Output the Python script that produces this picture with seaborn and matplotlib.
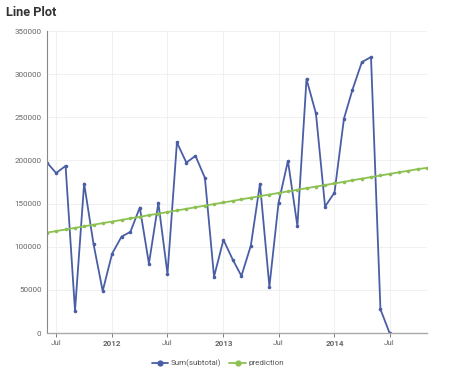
import matplotlib
matplotlib.use("Agg")
import matplotlib.pyplot as plt
import matplotlib.dates as mdates
import seaborn as sns
import pandas as pd
import numpy as np

# ---- data ----
months = pd.date_range("2011-06-01", "2014-11-01", freq="MS")
sum_subtotal = [197500, 185300, 193700, 25900, 173200, 102900, 48700, 92000,
                111700, 117200, 145400, 80400, 150800, 68400, 220800, 197500,
                205300, 179800, 65300, 107900, 84700, 66100, 101300, 172900,
                53700, 150800, 199500, 124100, 294300, 254400, 146500, 162800,
                248300, 281900, 314000, 319800, 27500, 0]
prediction = [116300, 118140, 119980, 121820, 123660, 125500, 127340, 129180,
              131020, 132860, 134700, 136540, 138380, 140220, 142060, 143900,
              145740, 147580, 149420, 151260, 153100, 154940, 156780, 158620,
              160460, 162300, 164140, 165980, 167820, 169660, 171500, 173340,
              175180, 177020, 178860, 180700, 182540, 184380, 186220, 188060,
              189900, 191400]
tick_dates = ["2011-07-01", "2012-01-01", "2012-07-01", "2013-01-01",
              "2013-07-01", "2014-01-01", "2014-07-01"]
tick_labels = ["Jul", "2012", "Jul", "2013", "Jul", "2014", "Jul"]
y_ticks = [0, 50000, 100000, 150000, 200000, 250000, 300000, 350000]

df = pd.concat([
    pd.DataFrame({"date": months[:len(sum_subtotal)], "value": sum_subtotal,
                  "series": "Sum(subtotal)"}),
    pd.DataFrame({"date": months[:len(prediction)], "value": prediction,
                  "series": "prediction"}),
], ignore_index=True)

sns.set_theme(style="white")
plt.rcParams['font.family'] = ['Roboto', 'DejaVu Sans']

fig = plt.figure(figsize=(4.74, 3.70), dpi=100)
ax = fig.add_axes([0.0992, 0.1, 0.8016, 0.8162])

palette = {"Sum(subtotal)": "#4a5ea6", "prediction": "#8cc152"}
sns.lineplot(data=df, x="date", y="value", hue="series", palette=palette,
             hue_order=["Sum(subtotal)", "prediction"],
             marker="o", markersize=2.6, markeredgewidth=0, linewidth=1.3,
             ax=ax, legend=True)

ax.set_xlim(months[0], months[len(prediction) - 1])
ax.set_ylim(0, 350000)
ax.set_yticks(y_ticks)
ax.set_yticklabels([str(v) for v in y_ticks])
ax.set_xticks(pd.to_datetime(tick_dates))
ax.set_xticklabels(tick_labels)
for lbl, txt in zip(ax.get_xticklabels(), tick_labels):
    if txt != "Jul":
        lbl.set_fontweight("bold")

ax.set_xlabel("")
ax.set_ylabel("")
ax.tick_params(axis="x", labelsize=5.8, colors="#666666", length=3,
               width=0.6, direction="out", pad=2, bottom=True)
ax.tick_params(axis="y", labelsize=5.8, colors="#666666", length=0, pad=4)
ax.grid(True, color="#eeeeee", linewidth=0.6)
for s in ["top", "right"]:
    ax.spines[s].set_visible(False)
ax.spines["left"].set_color("#888888")
ax.spines["left"].set_linewidth(0.8)
ax.spines["bottom"].set_color("#aaaaaa")
ax.spines["bottom"].set_linewidth(1.0)

leg = ax.legend(loc="center", bbox_to_anchor=(0.45, -0.1), ncol=2,
                frameon=False, fontsize=5.8, handlelength=2.0,
                columnspacing=1.0, handletextpad=0.4)
for t in leg.get_texts():
    t.set_color("#555555")
for h in leg.legend_handles:
    h.set_markersize(4.5)

fig.text(0.012, 0.965, "Line Plot", fontsize=9.2, fontweight="bold",
         color="#333333", va="center", ha="left")

fig.savefig("out.png", dpi=100)
